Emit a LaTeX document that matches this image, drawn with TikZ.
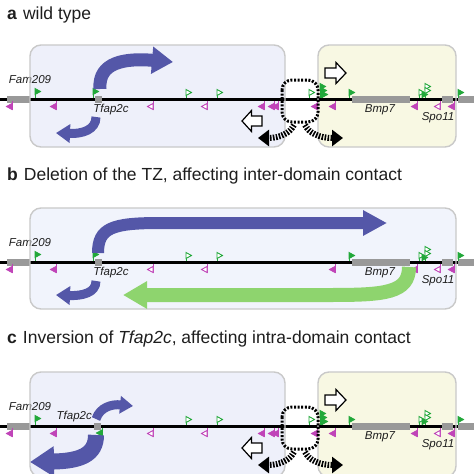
\documentclass[tikz,border=0pt]{standalone}
\usepackage{fontspec}
\setmainfont{Liberation Sans}
\usetikzlibrary{arrows.meta}
\definecolor{boxblue}{HTML}{EEF0FA}
\definecolor{boxblueb}{HTML}{F1F4FC}
\definecolor{boxyellow}{HTML}{F8F8E3}
\definecolor{boxline}{HTML}{C9C9C9}
\definecolor{indigo}{HTML}{5457A8}
\definecolor{lightgreen}{HTML}{8ED46E}
\definecolor{flaggreen}{HTML}{22A83A}
\definecolor{magentam}{HTML}{C044B8}
\definecolor{genegray}{HTML}{999999}
\definecolor{txt}{HTML}{1E1E1E}
\tikzset{
  domainbox/.style={draw=boxline, line width=1.4pt, rounded corners=11pt},
  chromline/.style={line width=3pt, black},
  genebox/.style={fill=genegray, draw=none},
  gpole/.style={draw=flaggreen, line width=0.9pt},
  mpole/.style={draw=magentam, line width=0.9pt},
  genelabel/.style={font=\fontsize{11.5}{13}\selectfont\itshape, text=txt, inner sep=0pt},
  titletext/.style={font=\fontsize{17.5}{20}\selectfont, text=txt, anchor=west, inner sep=0pt},
  bluearrow/.style={draw=indigo, line cap=butt},
  greenarrow/.style={draw=lightgreen, line cap=butt},
  loopline/.style={draw=black, line width=3pt, dash pattern=on 2pt off 1.6pt, rounded corners=10pt},
  looparrow/.style={draw=black, line width=6pt, dash pattern=on 1.6pt off 1.4pt, -{Triangle[width=16pt,length=11pt]}},
  openarrow/.style={draw=black, fill=white, line width=1.2pt, line join=miter},
}
% green flag above line: x, pole height, fill
\newcommand\gflg[3]{%
  \draw[gpole] (#1,97.5) -- (#1,{97.5-#2});
  \filldraw[gpole,fill=#3] (#1,{97.5-#2}) -- ({#1+5.5},{97.5-#2+3}) -- (#1,{97.5-#2+6}) -- cycle;}
% magenta flag below line: x, pole height, fill
\newcommand\mflg[3]{%
  \draw[mpole] (#1,100.5) -- (#1,{100.5+#2});
  \filldraw[mpole,fill=#3] (#1,{100.5+#2}) -- ({#1-5.5},{100.5+#2-3}) -- (#1,{100.5+#2-6}) -- cycle;}
% common chromosome elements (panel-local, line at y=99)
\newcommand\chromcommon{%
  \draw[chromline] (-2,99) -- (476,99);
  \fill[genebox] (7,96) rectangle (30,103);
  \fill[genebox] (352,96) rectangle (410,103);
  \fill[genebox] (442,96) rectangle (453,103);
  \fill[genebox] (458,96) rectangle (476,103);
  \gflg{35}{9}{flaggreen}
  \gflg{186}{8}{white}
  \gflg{217}{8}{white}
  \gflg{349}{8}{flaggreen}
  \gflg{419}{8}{white}
  \gflg{422}{6}{flaggreen}
  \gflg{425}{14}{white}
  \gflg{425}{10}{white}
  \gflg{458}{8}{flaggreen}
  \mflg{12}{9}{magentam}
  \mflg{56}{9}{magentam}
  \mflg{153}{9}{white}
  \mflg{207}{9}{white}
  \mflg{335}{9}{magentam}
  \mflg{417}{9}{magentam}
  \mflg{440}{9}{white}
  \mflg{454}{9}{magentam}
  \node[genelabel] (lbmp) at (380,110) {Bmp7};
  \node[genelabel] (lspo) at (438,118) {Spo11};
  \node[genelabel] (lfam) at (30,80) {Fam209};
}
% TZ elements
\newcommand\tzelements{%
  \gflg{309}{8}{white}
  \gflg{320}{14}{flaggreen}
  \gflg{321}{10}{flaggreen}
  \gflg{322}{6}{flaggreen}
  \mflg{264}{9}{magentam}
  \mflg{274}{9}{magentam}
  \mflg{278}{9}{magentam}
  \mflg{317}{9}{magentam}
  \draw[loopline] (282,80) rectangle (318,122);
  \coordinate (ltail) at (294,125);
  \coordinate (lhead) at (258,138);
  \coordinate (rtail) at (305,125);
  \coordinate (rhead) at (343,138);
  \draw[looparrow] (ltail) .. controls (290,133) and (280,138) .. (lhead);
  \draw[looparrow] (rtail) .. controls (309,133) and (319,138) .. (rhead);
  \draw[openarrow] (325,68) -- (336,68) -- (336,62.5) -- (346,73) -- (336,83.5) -- (336,78) -- (325,78) -- cycle;
  \draw[openarrow] (262,116) -- (251.5,116) -- (251.5,110.5) -- (242,121) -- (251.5,131.5) -- (251.5,126) -- (262,126) -- cycle;
}
\begin{document}
\begin{tikzpicture}[x=1pt,y=-1pt]
\useasboundingbox (0,0) rectangle (474,474);
\clip (0,0) rectangle (474,474);
\fill[white] (0,0) rectangle (474,474);

% ---------------- panel a ----------------
\node[titletext] (ta) at (7,15) {\textbf{a}\hspace{6pt}wild type};
\fill[boxblue, rounded corners=11pt] (30,45) rectangle (285,147);
\fill[boxyellow, rounded corners=11pt] (318,45) rectangle (456,147);
\chromcommon
\draw[domainbox] (30,45) rectangle (285,147);
\draw[domainbox] (318,45) rectangle (456,147);
\fill[genebox] (95,96) rectangle (102,103);
\gflg{93}{9}{flaggreen}
\tzelements
\node[genelabel] (ltfa) at (111,110) {Tfap2c};
\coordinate (a1s) at (100,89);
\coordinate (a1e) at (173,62);
\draw[bluearrow, line width=13pt, -{Triangle[width=26pt,length=21pt]}] (a1s) .. controls (98,62) and (125,58) .. (a1e);
\coordinate (a2s) at (96,117);
\coordinate (a2e) at (56,133);
\draw[bluearrow, line width=9pt, -{Triangle[width=18pt,length=14pt]}] (a2s) .. controls (96,130) and (82,134) .. (a2e);

% ---------------- panel b ----------------
\node[titletext] (tb) at (7,176) {\textbf{b}\hspace{6pt}Deletion of the TZ, affecting inter-domain contact};
\begin{scope}[shift={(0,163)}]
\fill[boxblueb, rounded corners=11pt] (30,45) rectangle (456,146);
\chromcommon
\draw[domainbox] (30,45) rectangle (456,146);
\fill[genebox] (95,96) rectangle (102,103);
\gflg{93}{9}{flaggreen}
\node[genelabel] (ltfb) at (111,110) {Tfap2c};
\coordinate (b1s) at (98,90);
\coordinate (b1e) at (387,60);
\draw[bluearrow, line width=12pt, -{Triangle[width=24pt,length=24pt]}] (b1s) .. controls (98,65) and (112,60) .. (160,60) -- (b1e);
\coordinate (b2s) at (96,118);
\coordinate (b2e) at (56,132);
\draw[bluearrow, line width=9pt, -{Triangle[width=18pt,length=14pt]}] (b2s) .. controls (96,130) and (82,133) .. (b2e);
\coordinate (b3s) at (409,104);
\coordinate (b3e) at (123,132);
\draw[greenarrow, line width=14pt, -{Triangle[width=26pt,length=24pt]}] (b3s) .. controls (409,130) and (385,132) .. (330,132) -- (b3e);
\end{scope}

% ---------------- panel c ----------------
\node[titletext] (tc) at (7,339) {\textbf{c}\hspace{6pt}Inversion of \textit{Tfap2c}, affecting intra-domain contact};
\begin{scope}[shift={(0,327)}]
\fill[boxblue, rounded corners=11pt] (30,45) rectangle (285,150);
\fill[boxyellow, rounded corners=11pt] (318,45) rectangle (456,150);
\chromcommon
\draw[domainbox] (30,45) rectangle (285,150);
\draw[domainbox] (318,45) rectangle (456,150);
\fill[genebox] (94,96) rectangle (101,103);
\draw[gpole] (102,100.5) -- (102,109);
\filldraw[gpole,fill=flaggreen] (102,109) -- (96.5,106) -- (102,103) -- cycle;
\tzelements
\node[genelabel, anchor=east] (ltfc) at (92,90) {Tfap2c};
\coordinate (c1s) at (96,92);
\coordinate (c1e) at (133,79);
\draw[bluearrow, line width=9pt, -{Triangle[width=17pt,length=13pt]}] (c1s) .. controls (100,80) and (112,77) .. (c1e);
\coordinate (c2s) at (96,108);
\coordinate (c2e) at (30,135);
\draw[bluearrow, line width=16pt, -{Triangle[width=29pt,length=24pt]}] (c2s) .. controls (96,128) and (80,134) .. (c2e);
\end{scope}
\end{tikzpicture}
\end{document}
